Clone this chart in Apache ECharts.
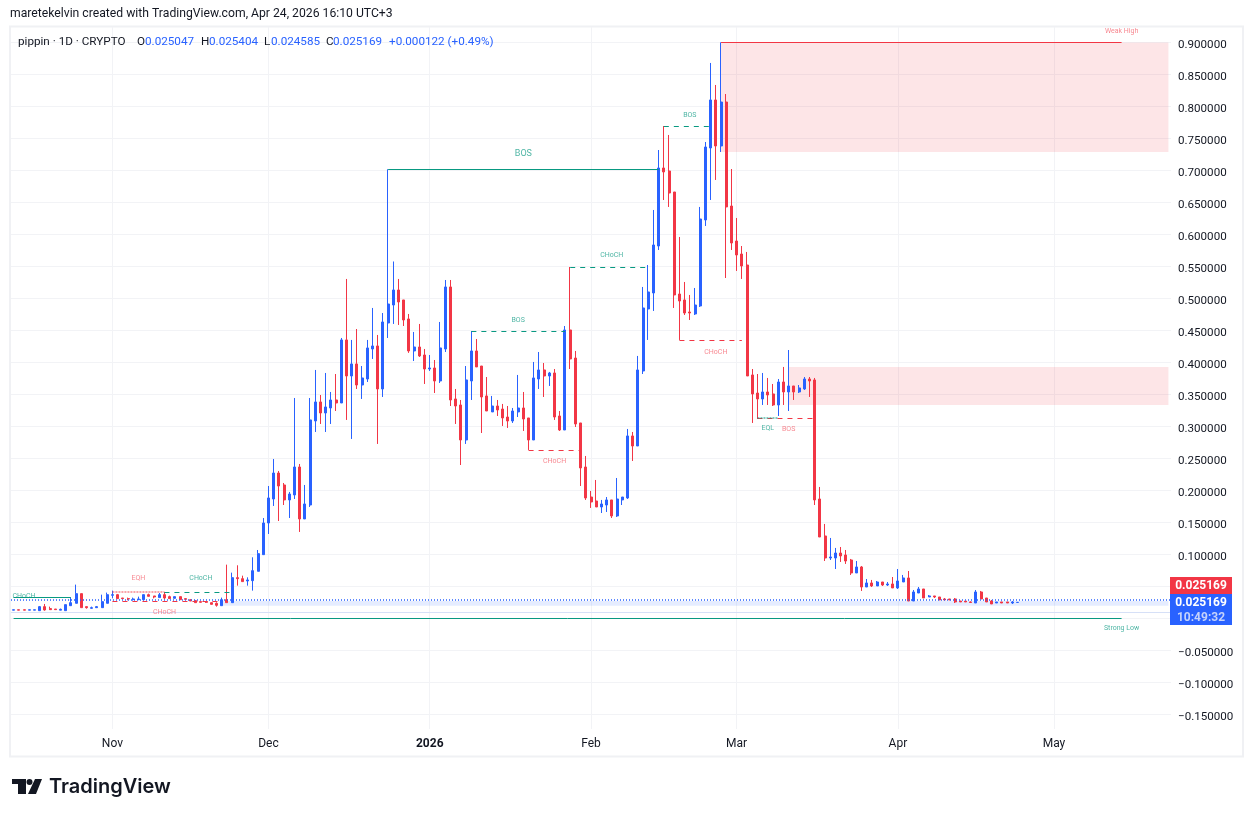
<!DOCTYPE html>
<html>
<head>
<meta charset="utf-8">
<title>pippin 1D</title>
<style>
  html, body { margin: 0; padding: 0; background: #fff; }
  #grafico { width: 1253px; height: 817px; }
</style>
<script src="https://cdn.jsdelivr.net/npm/echarts@6/dist/echarts.min.js"></script>
</head>
<body>
<div id="grafico"></div>
<script>
// Daily candles. Index 0 is 2025-10-13, last one is 2026-04-24
const opens = [
  .0130,.0136,.0136,.0130,.0130,.0122,.0185,.0154,.0148,.0130,.0122,.0200,.0237,.0388,.0185,.0159,.0169,.0169,.0237,.0362,
  .0372,.0320,.0310,.0295,.0294,.0294,.0372,.0352,.0326,.0372,.0341,.0315,.0341,.0310,.0294,.0279,.0263,.0263,.0247,.0237,
  .0200,.0294,.0247,.0638,.0622,.0586,.0591,.0737,.0997,.1492,.1867,.2273,.2086,.1852,.1930,.2367,.1555,.1773,.3086,.3383,
  .3211,.3289,.3414,.3367,.4352,.3789,.3977,.3648,.3742,.4211,.4258,.3586,.4617,.4898,.5133,.4977,.4680,.4180,.4242,.4117,
  .3898,.3914,.3711,.4211,.5180,.3430,.3336,.2789,.3711,.4180,.3945,.3477,.3227,.3320,.3273,.3148,.3086,.3227,.3289,.3133,
  .2789,.3742,.3883,.3789,.3836,.3164,.2945,.4508,.4070,.3055,.2367,.1898,.1836,.1742,.1773,.1852,.1602,.1852,.1883,.2852,
  .2695,.3867,.4836,.5086,.5820,.7039,.6992,.6664,.5070,.4977,.4789,.4758,.4883,.6227,.7352,.8102,.7383,.8070,.6445,.5898,
  .5695,.5523,.3805,.3523,.3430,.3539,.3508,.3336,.3695,.3539,.3633,.3539,.3586,.3742,.3727,.1867,.1289,.0945,.0945,.1023,
  .0992,.0914,.0711,.0805,.0492,.0555,.0508,.0570,.0523,.0539,.0477,.0570,.0633,.0273,.0398,.0461,.0336,.0352,.0336,.0305,
  .0305,.0305,.0273,.0273,.0258,.0242,.0414,.0320,.0273,.0242,.0258,.0258,.0242,.025047
];
const closes = [
  .0136,.0130,.0130,.0136,.0136,.0185,.0133,.0138,.0138,.0143,.0216,.0247,.0388,.0169,.0169,.0169,.0185,.0263,.0372,.0372,
  .0310,.0310,.0305,.0305,.0305,.0372,.0346,.0336,.0372,.0320,.0310,.0341,.0294,.0299,.0273,.0247,.0253,.0253,.0221,.0206,
  .0294,.0247,.0638,.0622,.0576,.0602,.0747,.1013,.1492,.1883,.2273,.2070,.1852,.1945,.2367,.1555,.1789,.3102,.3383,.3211,
  .3305,.3414,.3367,.4352,.3789,.3977,.3648,.3758,.4227,.4258,.3586,.4633,.4914,.5133,.4945,.4664,.4180,.4242,.4102,.3898,
  .3914,.3711,.4227,.5180,.3414,.3320,.2789,.3727,.4180,.3930,.3461,.3242,.3320,.3258,.3133,.3086,.3242,.3289,.3117,.2789,
  .3758,.3883,.3789,.3836,.3148,.2945,.4508,.4055,.3039,.2352,.1883,.1820,.1742,.1789,.1852,.1602,.1867,.1898,.2852,.2695,
  .3883,.4852,.5102,.5836,.7039,.6977,.6648,.5055,.4961,.4773,.4773,.4898,.6242,.7367,.8102,.7383,.8070,.6430,.5867,.5680,
  .5508,.3789,.3508,.3430,.3539,.3492,.3336,.3695,.3539,.3633,.3539,.3602,.3742,.3711,.1852,.1273,.0945,.0961,.1023,.0977,
  .0898,.0711,.0805,.0492,.0555,.0508,.0570,.0523,.0539,.0477,.0586,.0633,.0273,.0414,.0461,.0320,.0352,.0336,.0289,.0289,
  .0289,.0258,.0258,.0258,.0250,.0414,.0305,.0258,.0227,.0258,.0242,.0242,.0258,.025169
];
const highs = [
  .0136,.0136,.0136,.0136,.0136,.0195,.0227,.0185,.0148,.0154,.0216,.0330,.0529,.0388,.0185,.0185,.0195,.0372,.0404,.0435,
  .0383,.0320,.0326,.0326,.0341,.0372,.0388,.0352,.0398,.0414,.0357,.0341,.0341,.0310,.0299,.0279,.0263,.0263,.0247,.0253,
  .0326,.0841,.0716,.0831,.0669,.0643,.0956,.1070,.1570,.2070,.2492,.2305,.2117,.1977,.3445,.2414,.2086,.3445,.3883,.3492,
  .3836,.3539,.3820,.4383,.5305,.4352,.4523,.3945,.4352,.4852,.4430,.4773,.7019,.5578,.5305,.4977,.4758,.4477,.4602,.4211,
  .4117,.4039,.4633,.5289,.5289,.3586,.3414,.3945,.4492,.4367,.3945,.3773,.3477,.3414,.3352,.3320,.3289,.3805,.3539,.3133,
  .4008,.4164,.3992,.3852,.3898,.3242,.4570,.5492,.4180,.3055,.2539,.1992,.2164,.1852,.1898,.1852,.2195,.1898,.2961,.2914,
  .4102,.5180,.5523,.6383,.7320,.7695,.7555,.6664,.5961,.5258,.5055,.5164,.6430,.7445,.8680,.8336,.9002,.8195,.7023,.6258,
  .5820,.5727,.3898,.3820,.3836,.3758,.3664,.3742,.3930,.4195,.3633,.3648,.3773,.3773,.3758,.2055,.1477,.1258,.1102,.1117,
  .1070,.0930,.0898,.0820,.0617,.0602,.0586,.0570,.0570,.0648,.0773,.0680,.0742,.0445,.0492,.0461,.0367,.0352,.0336,.0320,
  .0305,.0320,.0273,.0273,.0266,.0445,.0430,.0320,.0289,.0258,.0258,.0258,.0273,.025404
];
const lows = [
  .0130,.0130,.0130,.0130,.0130,.0122,.0122,.0133,.0138,.0130,.0122,.0200,.0237,.0169,.0154,.0154,.0169,.0169,.0237,.0315,
  .0310,.0300,.0284,.0279,.0289,.0294,.0346,.0315,.0326,.0300,.0310,.0315,.0294,.0299,.0273,.0247,.0253,.0242,.0221,.0185,
  .0200,.0247,.0247,.0513,.0576,.0513,.0435,.0737,.0997,.1320,.1758,.1523,.1773,.1570,.1867,.1352,.1555,.1742,.2914,.3039,
  .2914,.3039,.3242,.3367,.3102,.2805,.3586,.3430,.3695,.4055,.2727,.3461,.4383,.4602,.4586,.4570,.4150,.4023,.4086,.3664,
  .3867,.3523,.3680,.4164,.3320,.3039,.2398,.2727,.3414,.3930,.2898,.3242,.3227,.3164,.3008,.2977,.3055,.3148,.2930,.2633,
  .2789,.3586,.3461,.3633,.3102,.2930,.2945,.3898,.2992,.2070,.1852,.1727,.1742,.1648,.1664,.1570,.1586,.1773,.1867,.2461,
  .2695,.3820,.4352,.4805,.5758,.6539,.6430,.4852,.4352,.4742,.4664,.4742,.4867,.6133,.6539,.6852,.7289,.5320,.5758,.5430,
  .5305,.3789,.3055,.3117,.3336,.3336,.3320,.3164,.3336,.3242,.3414,.3523,.3570,.3461,.1773,.1273,.0898,.0914,.0773,.0883,
  .0852,.0680,.0711,.0430,.0492,.0492,.0508,.0508,.0508,.0477,.0461,.0570,.0273,.0273,.0398,.0320,.0336,.0320,.0289,.0289,
  .0289,.0242,.0258,.0258,.0242,.0242,.0305,.0258,.0227,.0242,.0242,.0242,.0227,.024585
];

// Axis
const firstDay = '2025-10-13';
const dayCount = 223;
const monthDays = [19, 49, 80, 111, 139, 170, 200];
const monthLabels = ['Nov', 'Dec', '2026', 'Feb', 'Mar', 'Apr', 'May'];
const priceTicks = [-.15, -.1, -.05, 0, .05, .1, .15, .2, .25, .3, .35, .4, .45, .5, .55, .6, .65, .7, .75, .8, .85, .9];

const lastPrice = 0.025169;
const levelLine = 0.0143;

// Market structure: [first day, last day, price, kind]
const structure = [
  [0, 11, .0336, 'upSolid'],
  [19, 29, .0424, 'eq'],
  [29, 42, .0414, 'upDash'],
  [19, 40, .0273, 'downDash'],
  [72, 124, .7018, 'upSolid'],
  [88, 106, .4487, 'upDash'],
  [107, 122, .5487, 'upDash'],
  [125, 134, .7690, 'upDash'],
  [99, 109, .2628, 'downDash'],
  [128, 140, .4346, 'downDash'],
  [143, 154, .3128, 'downDash'],
  [143, 147, .3140, 'eqUp'],
  [136, 213, .9008, 'downSolid'],
  [0, 213, .0006, 'upSolid']
];
// Zones: [first day, last day, top, bottom]
const redZones = [[136, 222, .9, .729], [149, 222, .393, .3336]];
const blueZones = [[40, 222, .0273, .0200]];

// Labels: [text, day, price, side]
const tags = [
  ['CHoCH', 2, .0340, 'up'], ['EQH', 24, .0633, 'down'], ['CHoCH', 36, .0633, 'up'], ['CHoCH', 29, .0102, 'down'],
  ['BOS', 97, .4664, 'up'], ['CHoCH', 115, .5680, 'up'], ['BOS', 130, .7867, 'up'], ['CHoCH', 104, .2461, 'down'],
  ['CHoCH', 135, .4164, 'down'], ['EQL', 145, .2977, 'up'], ['BOS', 149, .2961, 'down'],
  ['Weak High', 213, .9180, 'down'], ['Strong Low', 213, -.0148, 'up']
];
const bigTags = [['BOS', 98, .7258, 'up']];

const UP = '#2962ff';
const DOWN = '#f23645';
const TEAL = '#089981';
const GRID = '#f2f3f6';
const FRAME = '#f0f1f4';
const FONT = 'Roboto, "Open Sans", sans-serif';

const days = [];
const t0 = Date.parse(firstDay);
for (let i = 0; i < dayCount; i++) {
  days.push(new Date(t0 + i * 86400000).toISOString().slice(0, 10));
}
const candles = opens.map((o, i) => [o, closes[i], lows[i], highs[i]]);

const lineStyles = {
  upSolid: { color: TEAL, type: 'solid', width: 1 },
  downSolid: { color: DOWN, type: 'solid', width: 1 },
  upDash: { color: TEAL, type: [5, 5], width: 1 },
  downDash: { color: DOWN, type: [5, 5], width: 1 },
  eq: { color: 'rgba(242,54,69,.45)', type: [2, 1], width: 2 },
  eqUp: { color: 'rgba(8,153,129,.5)', type: [2, 1], width: 2 }
};

const structureLines = structure.map(s => [
  { xAxis: s[0], yAxis: s[2], lineStyle: lineStyles[s[3]] },
  { xAxis: s[1], yAxis: s[2] }
]);

const zoneAreas = (list, color) => list.map(z => [
  { xAxis: z[0], yAxis: z[2], itemStyle: { color: color } },
  { xAxis: z[1], yAxis: z[3] }
]);

const tagPoints = (list, size) => list.map(t => ({
  value: [t[1], t[2]],
  label: {
    show: true, position: 'inside', formatter: t[0], fontSize: size, fontFamily: FONT,
    color: t[3] === 'up' ? 'rgba(8,153,129,.9)' : 'rgba(242,54,69,.75)'
  }
}));

const myChart = echarts.init(document.getElementById('grafico'), null, { renderer: 'canvas' });

// Header pieces: [text, x, colour]
const headerBits = [
  ['pippin · 1D · CRYPTO', 18, '#131722'],
  ['O', 137, '#131722'], ['0.025047', 145, UP],
  ['H', 201, '#131722'], ['0.025404', 209, UP],
  ['L', 264, '#131722'], ['0.024585', 271, UP],
  ['C', 326, '#131722'], ['0.025169', 333, UP],
  ['+0.000122 (+0.49%)', 389, UP]
];

const graphics = [
  // frame around the chart
  { type: 'rect', z: 0, shape: { x: 10, y: 26.5, width: 1233, height: 730 }, style: { fill: 'none', stroke: FRAME, lineWidth: 2 } },
  { type: 'text', z: 10, x: 10, y: 14, style: { text: 'maretekelvin created with TradingView.com, Apr 24, 2026 16:10 UTC+3', fill: '#131722', font: '12.2px ' + FONT, textVerticalAlign: 'middle' } },
  // price tags
  { type: 'rect', z: 20, shape: { x: 1170, y: 577, width: 62, height: 17 }, style: { fill: DOWN } },
  { type: 'rect', z: 20, shape: { x: 1170, y: 594, width: 62, height: 31 }, style: { fill: UP } },
  { type: 'text', z: 21, x: 1201, y: 586, style: { text: '0.025169', fill: '#fff', font: 'bold 12px ' + FONT, textAlign: 'center', textVerticalAlign: 'middle' } },
  { type: 'text', z: 21, x: 1201, y: 603, style: { text: '0.025169', fill: '#fff', font: 'bold 12px ' + FONT, textAlign: 'center', textVerticalAlign: 'middle' } },
  { type: 'text', z: 21, x: 1201, y: 617.5, style: { text: '10:49:32', fill: '#c4d2fb', font: 'bold 12px ' + FONT, textAlign: 'center', textVerticalAlign: 'middle' } },
  // TradingView logo
  { type: 'polygon', z: 10, shape: { points: [[12, 779], [26, 779], [26, 794], [18, 794], [18, 784], [12, 784]] }, style: { fill: '#131722' } },
  { type: 'circle', z: 10, shape: { cx: 29.5, cy: 782, r: 3 }, style: { fill: '#131722' } },
  { type: 'polygon', z: 10, shape: { points: [[35, 779], [42, 779], [36, 794], [28, 794]] }, style: { fill: '#131722' } },
  { type: 'text', z: 10, x: 49, y: 787, style: { text: 'TradingView', fill: '#131722', font: '600 20px Inter, ' + FONT, textVerticalAlign: 'middle' } }
];
headerBits.forEach(b => {
  graphics.push({ type: 'text', z: 10, x: b[1], y: 42.5, style: { text: b[0], fill: b[2], font: '11.7px ' + FONT, textVerticalAlign: 'middle' } });
});

const isMonth = i => monthDays.indexOf(i) >= 0;

const option = {
  animation: false,
  backgroundColor: '#fff',
  grid: { left: 11, top: 27, width: 1160, height: 702, containLabel: false },
  xAxis: {
    type: 'category',
    data: days,
    boundaryGap: true,
    axisLine: { show: false },
    axisTick: { show: false, alignWithLabel: true },
    splitLine: { show: true, alignWithLabel: true, interval: i => isMonth(i), lineStyle: { color: GRID, width: 1 } },
    axisLabel: {
      interval: i => isMonth(i),
      margin: 9,
      color: '#131722',
      fontSize: 12,
      fontFamily: FONT,
      formatter: (v, i) => {
        const text = monthLabels[monthDays.indexOf(i)];
        return text === '2026' ? '{b|2026}' : text;
      },
      rich: { b: { fontWeight: 'bold', fontSize: 12, fontFamily: FONT, color: '#131722' } }
    }
  },
  yAxis: {
    type: 'value',
    position: 'right',
    min: -.1727,
    max: .9242,
    scale: false,
    axisLine: { show: false },
    axisTick: { show: false, customValues: priceTicks },
    splitLine: { show: true, lineStyle: { color: GRID, width: 1 } },
    axisLabel: {
      customValues: priceTicks,
      margin: 7,
      color: '#131722',
      fontSize: 11.6,
      fontFamily: FONT,
      formatter: v => '{p|' + (v < 0 ? '\u2212' : '') + Math.abs(v).toFixed(6) + '}',
      // rich padding nudges the text just under its grid line
      rich: { p: { color: '#131722', fontSize: 11.6, fontFamily: FONT, padding: [5, 0, 0, 0] } }
    }
  },
  series: [
    {
      name: 'zones',
      type: 'line',
      data: [],
      z: 1,
      markArea: {
        silent: true,
        z: 1,
        data: zoneAreas(redZones, 'rgba(242,54,69,.13)').concat(zoneAreas(blueZones, 'rgba(41,98,255,.12)'))
      }
    },
    {
      name: 'pippin',
      type: 'candlestick',
      data: candles,
      z: 3,
      barWidth: 2.5,
      itemStyle: {
        color: UP, color0: DOWN,
        borderColor: UP, borderColor0: DOWN,
        borderColorDoji: UP,
        borderWidth: 1
      }
    },
    {
      name: 'structure',
      type: 'line',
      data: [],
      z: 4,
      markLine: {
        silent: true,
        symbol: 'none',
        label: { show: false },
        z: 4,
        data: structureLines.concat([
          { yAxis: lastPrice, lineStyle: { color: UP, type: [1, 2], width: 1.5 } },
          { yAxis: levelLine, lineStyle: { color: '#d6e0f7', type: 'solid', width: 1 } }
        ])
      }
    },
    {
      name: 'tags',
      type: 'scatter',
      symbolSize: 0,
      silent: true,
      z: 5,
      data: tagPoints(tags, 7).concat(tagPoints(bigTags, 9))
    }
  ],
  graphic: graphics
};

option && myChart.setOption(option);
</script>
</body>
</html>
